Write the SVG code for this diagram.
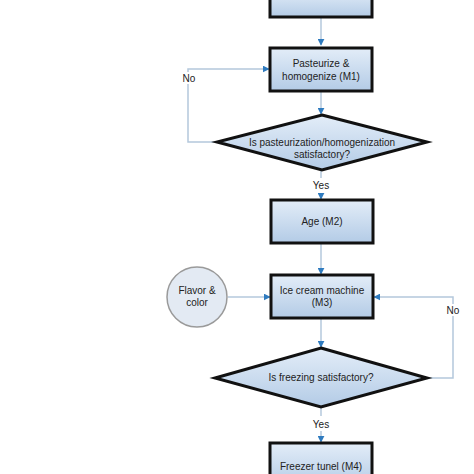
<svg xmlns="http://www.w3.org/2000/svg" width="474" height="474" viewBox="0 0 474 474">
<defs>
<linearGradient id="boxg" x1="0" y1="0" x2="0" y2="1">
<stop offset="0" stop-color="#e3edf8"/>
<stop offset="1" stop-color="#b3cbe6"/>
</linearGradient>
<marker id="arr" viewBox="0 0 10 10" refX="9" refY="5" markerWidth="7" markerHeight="7" orient="auto" markerUnits="userSpaceOnUse">
<path d="M0,0 L10,5 L0,10 z" fill="#2f7bbf"/>
</marker>
</defs>
<style>
.box{fill:url(#boxg);stroke:#111;stroke-width:3}
.dia{fill:url(#boxg);stroke:#111;stroke-width:3;stroke-linejoin:miter}
.circ{fill:#e3eaf3;stroke:#9a9a9a;stroke-width:1.5}
.con{fill:none;stroke:#b4c8dc;stroke-width:1.5}
.t{font-family:"Liberation Sans",Arial,sans-serif;font-size:10px;fill:#222;text-anchor:middle}
</style>
<rect width="474" height="474" fill="#fff"/>
<g id="connectors">
<path class="con" d="M321,17 V45" marker-end="url(#arr)"/>
<path class="con" d="M321,91 V114" marker-end="url(#arr)"/>
<path class="con" d="M217,142 H188 V69 H269" marker-end="url(#arr)"/>
<path class="con" d="M321,170 V178"/>
<path class="con" d="M321,193 V199" marker-end="url(#arr)"/>
<path class="con" d="M321,243 V274" marker-end="url(#arr)"/>
<path class="con" d="M228,297 H270" marker-end="url(#arr)"/>
<path class="con" d="M427,378 H453 V297 H374" marker-end="url(#arr)"/>
<path class="con" d="M321,318 V347" marker-end="url(#arr)"/>
<path class="con" d="M321,407 V416"/>
<path class="con" d="M321,431 V442" marker-end="url(#arr)"/>
<rect x="180" y="72" width="17" height="12" fill="#fff"/>
<text class="t" x="189" y="82">No</text>
<rect x="445" y="304" width="17" height="12" fill="#fff"/>
<text class="t" x="453" y="314">No</text>
<text class="t" x="321" y="189">Yes</text>
<text class="t" x="321" y="428">Yes</text>
</g>
<g id="start"><rect class="box" x="270" y="-10" width="102" height="27"/></g>
<g id="m1"><rect class="box" x="270" y="48" width="102" height="43"/>
<text class="t" x="321" y="67">Pasteurize &amp;</text>
<text class="t" x="321" y="80">homogenize (M1)</text></g>
<g id="d1"><polygon class="dia" points="322,115 427,142 322,170 217,142"/>
<text class="t" x="322" y="146">Is pasteurization/homogenization</text>
<text class="t" x="322" y="158">satisfactory?</text></g>
<g id="m2"><rect class="box" x="271" y="200" width="102" height="43"/>
<text class="t" x="322" y="225">Age (M2)</text></g>
<g id="flavor"><circle class="circ" cx="197" cy="297" r="30"/>
<text class="t" x="197" y="294">Flavor &amp;</text>
<text class="t" x="197" y="306">color</text></g>
<g id="m3"><rect class="box" x="271" y="275" width="102" height="43"/>
<text class="t" x="322" y="294">Ice cream machine</text>
<text class="t" x="322" y="306">(M3)</text></g>
<g id="d2"><polygon class="dia" points="321,348 427,378 321,407 215,378"/>
<text class="t" x="321" y="381">Is freezing satisfactory?</text></g>
<g id="m4"><rect class="box" x="270" y="443" width="102" height="45"/>
<text class="t" x="321" y="470">Freezer tunel (M4)</text></g>
</svg>
